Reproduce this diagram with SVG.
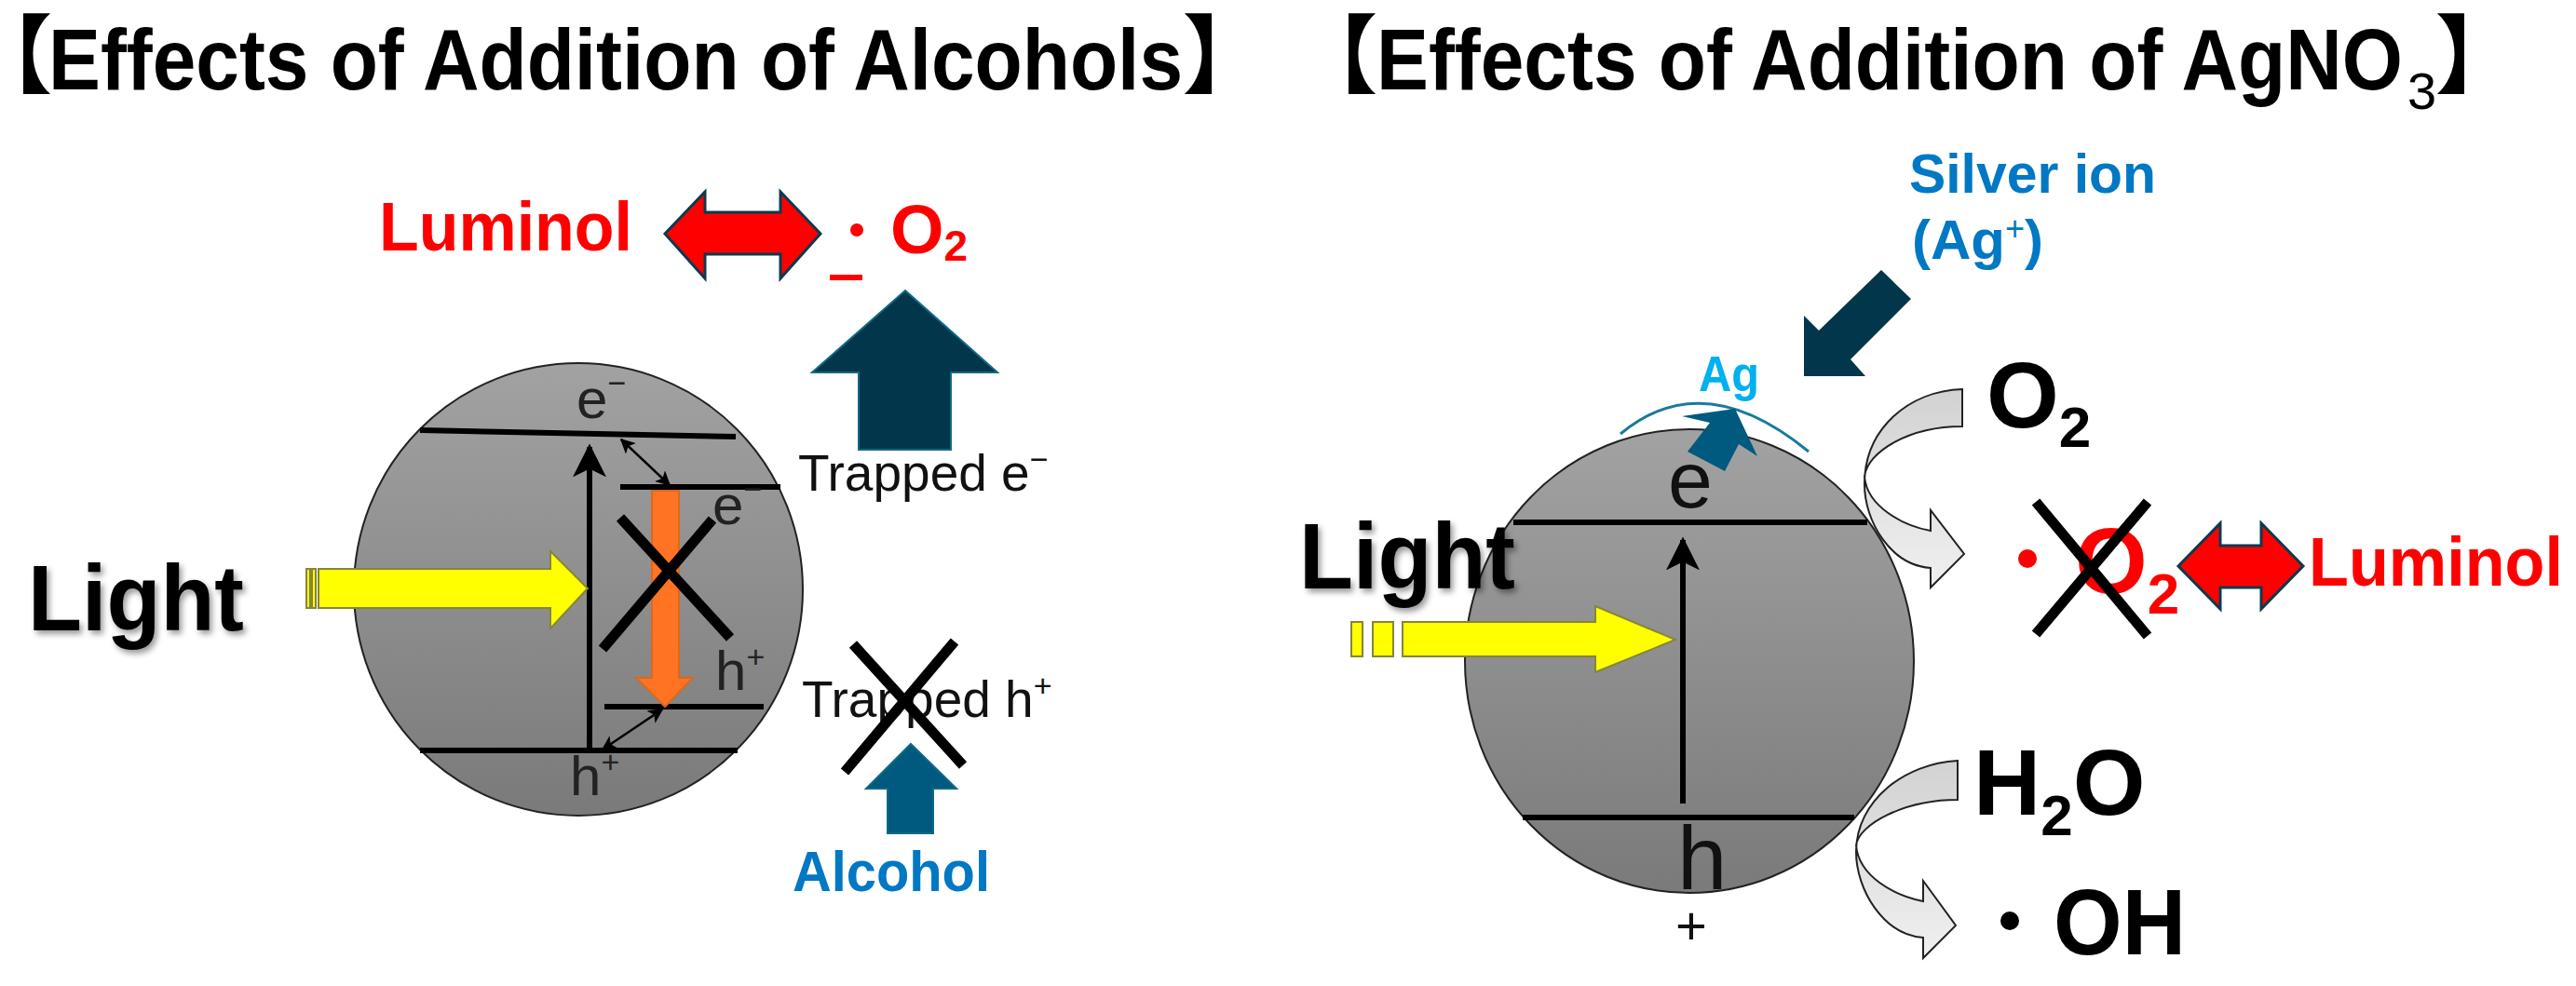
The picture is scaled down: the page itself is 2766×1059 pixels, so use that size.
<svg xmlns="http://www.w3.org/2000/svg" width="2766" height="1059" viewBox="0 0 2766 1059">
<defs>
<linearGradient id="sphere" x1="0" y1="0" x2="0" y2="1"><stop offset="0" stop-color="#a2a2a2"/><stop offset="1" stop-color="#7a7a7a"/></linearGradient>
<linearGradient id="curve" x1="0" y1="0" x2="0" y2="1"><stop offset="0" stop-color="#d2d2d2"/><stop offset="1" stop-color="#f0f0f0"/></linearGradient>
<filter id="shadow" x="-10%" y="-10%" width="125%" height="125%"><feDropShadow dx="3" dy="4" stdDeviation="3" flood-color="#000" flood-opacity="0.4"/></filter>
<marker id="tipS" viewBox="0 0 10 10" refX="9" refY="5" markerWidth="16" markerHeight="16" markerUnits="userSpaceOnUse" orient="auto-start-reverse"><path d="M0,0L10,5L0,10L2.5,5Z" fill="#000"/></marker>
<marker id="tipL" viewBox="0 0 10 10" refX="9" refY="5" markerWidth="36" markerHeight="36" markerUnits="userSpaceOnUse" orient="auto"><path d="M0,0L10,5L0,10L2.5,5Z" fill="#000"/></marker>
</defs>
<style>
text{font-family:"Liberation Sans","Noto Sans CJK JP",sans-serif;fill:#000}
.title{font-size:92px;font-weight:700}
.cjk{font-family:"Noto Sans CJK JP",sans-serif;font-size:92px;font-weight:700;font-feature-settings:"palt"}
.light{font-size:100px;font-weight:700;filter:url(#shadow)}
.lum{font-size:74px;font-weight:700;fill:#f00}
.blue{font-weight:700;fill:#0078c4}
.big{font-size:100px;font-weight:700}
.red{fill:#f00}
.trap{font-size:55px;fill:#111}
.car{font-size:60px;fill:#222}
.sph{fill:url(#sphere);stroke:#222;stroke-width:2}
.band{stroke:#000;stroke-width:6;fill:none}
.x{stroke:#000;stroke-width:11;fill:none}
.yel{fill:#ff0;stroke:#85853c;stroke-width:2}
.dbl{fill:#f00;stroke:#0b3a4f;stroke-width:3}
.curved{fill:url(#curve);stroke:#222;stroke-width:2}
.up{stroke:#000;stroke-width:6;fill:none}
.thin{stroke:#000;stroke-width:2.5;fill:none;marker-start:url(#tipS);marker-end:url(#tipS)}
</style>

<g id="title-left"><text class="cjk" x="8" y="93">【</text><text class="title" x="52" y="96" textLength="1218" lengthAdjust="spacingAndGlyphs">Effects of Addition of Alcohols</text><text class="cjk" x="1272" y="93">】</text></g>
<g id="title-right"><text class="cjk" x="1431" y="93">【</text><text class="title" x="1478" y="96" textLength="1102" lengthAdjust="spacingAndGlyphs">Effects of Addition of AgNO</text><text x="2585" y="117" style="font-size:56px">3</text><text class="cjk" x="2617" y="93">】</text></g>

<g id="sphere-left"><ellipse class="sph" cx="621" cy="633" rx="241" ry="243"/></g>
<g id="sphere-right"><ellipse class="sph" cx="1814" cy="710" rx="241" ry="249"/></g>

<g id="connectors">
<path class="band" d="M451,462L790,469M666,523H838M649,759H820M451,806H792"/>
<path class="up" d="M633,806V480" marker-end="url(#tipL)"/>
<path class="thin" d="M667,472L719,521"/>
<path class="thin" d="M711,762L647,805"/>
<path d="M700,527H729V728H744L714,759L683,728H700Z" fill="#ff7322" stroke="#d8691f" stroke-width="2"/>
<path d="M329,611h4v42h-4ZM335,611h4v42h-4ZM342,611H591V592L631,632L591,675V653H342Z" class="yel"/>
<path class="band" d="M1625,561H2005M1635,878H1991"/>
<path class="up" d="M1807,863V580" marker-end="url(#tipL)"/>
<path d="M1451,668h12v37h-12ZM1474,668h22v37h-22ZM1506,668H1713V651L1799,687L1713,722V705H1506Z" class="yel"/>
<path d="M714,251L757,206V228H838V206L881,251L838,299V273H757V299Z" class="dbl"/>
<path d="M972,312L1071,400H1021V483H922V400H872Z" fill="#02364b" stroke="#0f6a84" stroke-width="2"/>
<path d="M978,799L1027,847H1002V895H953V847H930Z" fill="#00597f" stroke="#0f6a84" stroke-width="2"/>
<path d="M2020,290L2052,321L1987,386L2003,404H1937V339L1953,355Z" fill="#02364b"/>
<path d="M1740,466Q1829,392 1942,485" fill="none" stroke="#1a7a9a" stroke-width="3"/>
<path d="M1863,439L1806,447L1836,454L1812,485L1852,506L1867,477L1887,490Z" fill="#00597f"/>
<path class="curved" d="M2107,418C2050,420 2002,460 2002,520C2002,560 2030,607 2073,610V631L2109,595L2073,548V570C2045,565 2005,545 2002,512C2005,485 2050,458 2107,458Z"/>
<path class="curved" d="M2102,817C2045,820 1993,860 1993,915C1993,955 2022,1004 2065,1007V1029L2100,994L2065,946V968C2035,962 1996,942 1993,908C1996,885 2045,859 2102,859Z"/>
<path d="M2339,608L2384,562V586H2428V562L2473,608L2428,654V631H2384V654Z" class="dbl"/>
</g>

<g id="label-light-left"><text class="light" x="30" y="677" textLength="232" lengthAdjust="spacingAndGlyphs">Light</text></g>
<g id="label-luminol-left"><text class="lum" x="407" y="269" textLength="272" lengthAdjust="spacingAndGlyphs">Luminol</text></g>
<g id="label-o2-left"><circle cx="920" cy="247" r="7" fill="#f00"/><rect x="891" y="295" width="35" height="6" fill="#f00"/><text class="lum" x="956" y="272">O<tspan dy="8" font-size="46" style="font-size:46px">2</tspan></text></g>
<g id="label-trapped-e"><text class="trap" x="857" y="527">Trapped e<tspan dy="-22" font-size="34">−</tspan></text></g>
<g id="label-trapped-h"><text class="trap" x="861" y="770">Trapped h<tspan dy="-22" font-size="34">+</tspan></text></g>
<g id="label-alcohol"><text class="blue" x="851" y="957" style="font-size:62px" textLength="212" lengthAdjust="spacingAndGlyphs">Alcohol</text></g>
<g id="carriers-left">
<text class="car" x="619" y="449">e<tspan dy="-26" font-size="34">−</tspan></text>
<text class="car" x="765" y="563">e<tspan dy="-26" font-size="34">−</tspan></text>
<text class="car" x="768" y="741">h<tspan dy="-24" font-size="34">+</tspan></text>
<text class="car" x="612" y="854">h<tspan dy="-24" font-size="34">+</tspan></text>
</g>
<g id="cross-left-1"><path class="x" d="M666,556L784,685M765,558L647,697"/></g>
<g id="cross-left-2"><path class="x" d="M916,692L1034,822M1025,689L907,829"/></g>

<g id="label-light-right"><text class="light" x="1395" y="632" textLength="232" lengthAdjust="spacingAndGlyphs">Light</text></g>
<g id="label-silver"><text class="blue" x="2050" y="207" style="font-size:60px" textLength="265" lengthAdjust="spacingAndGlyphs">Silver ion</text><text class="blue" x="2053" y="278" style="font-size:60px">(Ag<tspan dy="-20" font-size="36" style="font-weight:400">+</tspan><tspan dy="20">)</tspan></text></g>
<g id="label-ag"><text x="1824" y="420" style="font-size:54px;font-weight:700;fill:#00b0f0" textLength="65" lengthAdjust="spacingAndGlyphs">Ag</text></g>
<g id="carriers-right"><text x="1791" y="545" style="font-size:86px;fill:#111">e</text><text x="1801" y="955" style="font-size:96px;fill:#111">h</text><text x="1799" y="1014" style="font-size:58px;fill:#111">+</text></g>
<g id="label-o2-right"><text class="big" x="2133" y="459">O<tspan font-size="62" dy="21" style="font-size:62px">2</tspan></text></g>
<g id="label-so2"><circle cx="2177" cy="600" r="10" fill="#f00"/><text class="big red" x="2228" y="637">O<tspan font-size="62" dy="22" style="font-size:62px">2</tspan></text></g>
<g id="cross-right"><path class="x" d="M2186,539L2306,683M2306,539L2186,681"/></g>
<g id="label-luminol-right"><text class="lum" x="2479" y="629" textLength="273" lengthAdjust="spacingAndGlyphs">Luminol</text></g>
<g id="label-h2o"><text class="big" x="2119" y="875">H<tspan style="font-size:62px" dy="22">2</tspan><tspan dy="-22">O</tspan></text></g>
<g id="label-oh"><circle cx="2158" cy="989" r="10" fill="#000"/><text class="big" x="2205" y="1025" textLength="142" lengthAdjust="spacingAndGlyphs">OH</text></g>
</svg>
